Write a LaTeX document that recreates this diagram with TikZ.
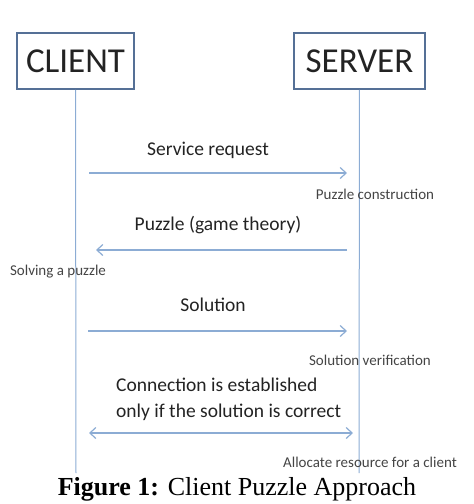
\documentclass[tikz,border=0pt]{standalone}
\usepackage{fontspec}
\newfontfamily\calfont{Carlito}
\newfontfamily\capfont{Liberation Serif}
\definecolor{boxblue}{RGB}{85,112,150}
\definecolor{lineblue}{RGB}{140,172,212}
\definecolor{textgray}{RGB}{35,35,35}
\usetikzlibrary{arrows.meta, positioning}
\tikzset{
	partybox/.style={
			draw=boxblue,
			line width=1.6pt,
			fill=white,
			minimum width=117pt,
			minimum height=56pt,
			inner sep=0pt,
			text=textgray,
			font=\calfont\fontsize{35}{40}\selectfont
		},
	lifeline/.style={
			draw=lineblue,
			line width=1pt
		},
	msgline/.style={
			draw=lineblue,
			line width=1.2pt
		},
	msglabel/.style={
			inner sep=0pt,
			text=textgray,
			font=\calfont\fontsize{19.5}{24}\selectfont
		},
	notelabel/.style={
			inner sep=0pt,
			text=textgray!85,
			font=\calfont\fontsize{15}{18}\selectfont
		}
}

\begin{document}
\begin{tikzpicture}[x=1pt, y=-1pt]
\useasboundingbox (0,0) rectangle (474,504);

\node[partybox] (client) at (75.5,61) {CLIENT};
\node[partybox, minimum width=131pt] (srv) at (359.5,61) {SERVER};
\coordinate (clientEnd) at (76,473);
\coordinate (srvEnd) at (359,473);
\draw[lifeline] (client) -- (clientEnd);
\draw[lifeline] (srv) -- (srvEnd);

\coordinate (reqA) at (89,173);
\coordinate (reqB) at (347,173);
\coordinate (pzA) at (347,250);
\coordinate (pzB) at (96,250);
\coordinate (solA) at (88,331);
\coordinate (solB) at (347,331);
\coordinate (conA) at (89,433);
\coordinate (conB) at (353,433);

\draw[msgline, -{Straight Barb[length=6pt, width=11pt]}] (reqA) -- (reqB);
\draw[msgline, -{Straight Barb[length=6pt, width=11pt]}] (pzA) -- (pzB);
\draw[msgline, -{Straight Barb[length=6pt, width=11pt]}] (solA) -- (solB);
\draw[msgline, {Straight Barb[length=6pt, width=11pt]}-{Straight Barb[length=6pt, width=11pt]}] (conA) -- (conB);

\node[msglabel] (reqText) at (208,150) {Service request};
\node[notelabel] (pzCons) at (375,194) {Puzzle construction};
\node[msglabel] (pzText) at (218,225) {Puzzle (game theory)};
\node[notelabel] (solving) at (58,272) {Solving a puzzle};
\node[msglabel] (solText) at (213,305) {Solution};
\node[notelabel] (solVer) at (370,360) {Solution verification};
\node[msglabel, align=left, anchor=west, font=\calfont\fontsize{19.5}{26}\selectfont] (conText) at (116,399) {Connection is established\\only if the solution is correct};
\node[notelabel] (alloc) at (370,462) {Allocate resource for a client};

\node[inner sep=0pt, font=\capfont\fontsize{26}{30}\selectfont] (caption) at (237,489) {\textbf{Figure 1:} Client Puzzle Approach};
\end{tikzpicture}
\end{document}
